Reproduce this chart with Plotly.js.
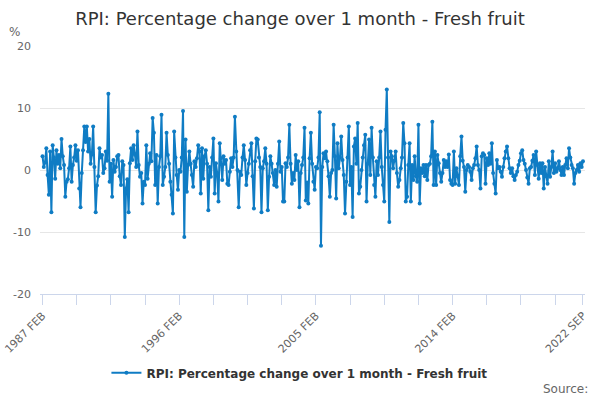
<!DOCTYPE html>
<html>
<head>
<meta charset="utf-8">
<script src="https://cdn.plot.ly/plotly-3.0.1.min.js"></script>
<style>html,body{margin:0;padding:0;background:#fff;}#chart{width:600px;height:400px;}</style>
</head>
<body>
<div id="chart"></div>
<script>
var startYear = 1987;
var startMonth = 1; // index into monthNames (FEB)
var monthNames = ["JAN","FEB","MAR","APR","MAY","JUN","JUL","AUG","SEP","OCT","NOV","DEC"];
var seriesName = "RPI: Percentage change over 1 month - Fresh fruit";
var labelledTicks = ["1987 FEB","1996 FEB","2005 FEB","2014 FEB","2022 SEP"];
var yTicks = [-20, -10, 0, 10, 20];
var yTickText = ["-20", "-10", "0", "10", "20"];

var values = [
 2.2,0.5,1.2,3.5,-0.8,-4.0,3.0,-6.8,4.0,2.0,-1.4,3.2,1.0,2.4,0.3,5.0,2.2,0.8,-4.3,-1.9,-1.5,0.3,3.8,-1.9,0.8,2.0,4.0,1.5,3.2,-3.0,-6.0,-0.5,3.2,
 7.0,4.5,7.0,3.0,5.0,1.0,2.5,7.0,0.5,-6.8,-2.5,-1.0,3.5,2.0,2.4,-0.5,0.3,3.0,1.5,12.3,-1.9,1.0,-4.3,1.6,-0.3,0.5,2.2,2.4,-1.0,-2.4,1.4,0.8,-10.8,-3.0,-1.5,-6.8,1.1,3.5,1.6,4.0,
 2.5,0.5,6.2,0.8,-1.1,-0.5,-5.4,-1.9,-2.4,4.0,-1.4,1.0,2.7,1.4,8.4,6.0,-2.4,2.4,-5.4,0.5,2.2,8.9,-2.4,-1.1,0.5,6.0,2.4,1.0,-1.9,-4.0,-7.0,6.2,2.0,-0.8,-3.2,0.0,-0.3,2.0,9.5,
 -10.8,4.9,-3.5,0.8,3.0,1.0,-0.8,-2.7,1.4,0.5,1.9,4.0,3.0,-3.8,3.5,-1.4,2.2,3.2,1.0,-6.5,0.5,-1.1,2.0,5.1,-3.8,1.1,-0.5,-5.1,4.3,1.9,-1.6,2.2,1.0,1.6,-2.2,-2.4,-0.3,1.9,0.5,2.0,
 8.6,3.0,0.0,-6.0,-0.3,-0.8,2.0,4.0,1.6,-2.4,-0.5,1.0,3.2,4.3,-1.0,-6.2,1.4,5.1,4.9,2.0,0.5,-6.8,0.3,1.4,3.5,1.0,-6.5,-1.1,2.2,1.0,-0.5,-2.4,0.0,-2.7,1.0,4.6,-0.3,0.5,-5.1,
 -5.1,1.1,0.5,2.0,7.3,1.0,-2.2,-0.5,-1.6,2.4,0.0,1.4,-6.0,-0.5,0.8,2.0,6.8,-4.9,-2.0,-5.4,1.9,6.0,1.0,-1.9,-3.2,0.5,0.3,2.0,9.3,-12.2,0.5,2.7,1.9,3.0,1.4,-1.0,-4.3,-0.5,0.0,7.3,
 2.2,-4.6,4.3,0.3,2.0,5.4,1.6,-0.8,-7.0,-1.9,2.0,7.0,-2.4,0.5,-7.6,3.8,5.1,1.0,7.6,-3.8,-2.7,0.0,2.0,4.0,5.7,-5.1,1.0,4.9,-0.8,6.8,2.0,-2.4,-4.3,1.4,-0.8,2.0,6.2,0.5,-2.4,
 -5.1,6.5,13.0,2.0,-8.4,3.0,2.2,0.3,1.5,3.0,-0.5,-2.7,-1.6,0.3,2.0,7.6,4.3,-5.1,-4.3,0.8,4.3,-5.1,0.8,-1.6,2.2,-1.0,-1.9,7.3,-5.4,0.3,-0.5,0.8,-1.0,0.8,-1.6,0.8,1.0,2.2,7.8,-2.4,
 3.0,-2.4,2.4,1.1,-0.5,-1.9,-0.5,1.6,0.5,1.4,0.5,2.5,-1.6,-2.2,-2.4,3.0,-2.2,0.3,-1.0,-2.4,2.2,5.4,1.5,0.5,-3.5,0.0,0.8,0.5,-0.3,-1.6,0.3,0.8,1.9,3.8,0.8,0.0,-3.0,2.2,2.7,
 2.4,-2.2,1.9,0.8,2.7,1.0,4.3,-0.5,-2.2,-3.8,1.6,0.3,0.5,-0.3,-1.1,0.5,1.9,3.0,3.8,1.9,0.3,-0.5,0.3,-1.0,-1.6,-0.8,-0.3,0.8,1.5,2.7,3.2,1.6,1.0,0.0,-1.2,-2.2,0.3,0.5,1.5,2.4,
 -0.8,3.0,0.8,-1.4,1.1,-0.5,1.1,-3.0,0.5,-1.0,-2.2,1.4,-1.1,0.5,3.0,-0.5,1.1,-0.3,0.3,1.4,0.0,-0.8,0.5,-0.8,0.8,1.9,0.3,3.5,2.0,0.8,0.3,-2.2,-0.5,0.0,0.8,-0.3,1.1,0.5,1.4
];

var categories = [];
for (var i = 0; i < values.length; i++) {
  var mi = startMonth + i;
  categories.push((startYear + Math.floor(mi / 12)) + " " + monthNames[mi % 12]);
}

// tick marks every 27 months, labels every 108, plus the final month
var tickvals = [], ticktext = [];
for (var t = 0; t < categories.length; t += 27) {
  tickvals.push(categories[t]);
  ticktext.push(labelledTicks.indexOf(categories[t]) >= 0 ? categories[t] : "");
}
tickvals.push(categories[categories.length - 1]);
ticktext.push(categories[categories.length - 1]);

var blue = "#0f7cc4";
var trace = {
  type: "scatter",
  mode: "lines+markers",
  x: categories,
  y: values,
  name: seriesName,
  line: {color: blue, width: 2},
  marker: {color: blue, size: 4}
};

var layout = {
  width: 600, height: 400,
  margin: {l: 40, r: 15, t: 46, b: 106},
  paper_bgcolor: "#fff", plot_bgcolor: "#fff",
  font: {family: "DejaVu Sans, sans-serif", color: "#666", size: 11},
  title: {text: "RPI: Percentage change over 1 month - Fresh fruit", x: 0.5, xanchor: "center", y: 0.953, yanchor: "middle",
          font: {size: 18, color: "#333", family: "DejaVu Sans, sans-serif"}},
  xaxis: {
    type: "category",
    range: [-2, 428.6],
    tickvals: tickvals, ticktext: ticktext,
    tickangle: -45,
    ticks: "outside", ticklen: 10, tickcolor: "#ccd6eb", tickwidth: 1,
    showline: true, linecolor: "#ccd6eb", linewidth: 1,
    showgrid: false, zeroline: false,
    tickfont: {size: 11, color: "#666"}
  },
  yaxis: {
    range: [-20, 20],
    tickvals: yTicks, ticktext: yTickText,
    showgrid: true, gridcolor: "#e6e6e6", gridwidth: 1,
    zeroline: false, showline: false,
    ticks: "", ticklabelstandoff: 8,
    tickfont: {size: 11, color: "#666"}
  },
  showlegend: true,
  legend: {orientation: "h", x: 0.476, xanchor: "center", y: -0.318, yanchor: "middle",
           font: {size: 12, color: "#333", family: "DejaVu Sans, sans-serif", weight: "bold"}},
  annotations: [
    {text: "%", xref: "paper", yref: "paper", x: -0.06, y: 1.055, xanchor: "left", yanchor: "middle",
     showarrow: false, font: {size: 12, color: "#666"}},
    {text: "Source:", xref: "paper", yref: "paper", x: 1.009, y: -0.383, xanchor: "right", yanchor: "middle",
     showarrow: false, font: {size: 12, color: "#666"}}
  ]
};

Plotly.newPlot("chart", [trace], layout, {displayModeBar: false, staticPlot: true});
</script>
</body>
</html>
